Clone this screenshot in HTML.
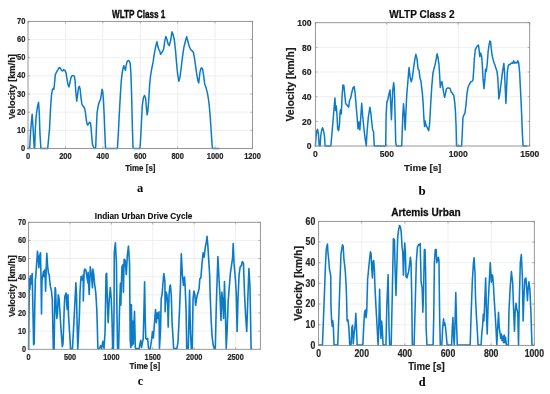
<!DOCTYPE html>
<html><head><meta charset="utf-8"><title>Drive cycles</title>
<style>html,body{margin:0;padding:0;background:#fff;width:550px;height:394px;overflow:hidden}svg{display:block}</style>
</head><body>
<svg width="550" height="394" viewBox="0 0 550 394">
<rect width="550" height="394" fill="#fff"/>
<path d="M65.42 21.4V148.5M102.83 21.4V148.5M140.25 21.4V148.5M177.67 21.4V148.5M215.08 21.4V148.5M28 130.34H252.5M28 112.19H252.5M28 94.03H252.5M28 75.87H252.5M28 57.71H252.5M28 39.56H252.5" stroke="#ebebeb" stroke-width="0.8" fill="none"/>
<path d="M28 148.46 L29.66 148.46 L30.8 128.57 L32.17 114.17 L33.09 128.57 L34.23 148.46 L34.69 148.46 L35.37 128.57 L36.06 117.14 L37.43 106.86 L38.57 102.29 L39.26 112.57 L39.94 133.14 L40.86 148.46 L47.71 148.46 L49.54 128.57 L50.69 105.71 L51.6 94.29 L52.51 89.26 L53.2 88.57 L53.89 89.26 L54.57 82.86 L55.26 74.86 L56.86 71.43 L58 69.6 L59.14 67.54 L60.29 68 L61.43 70.29 L62.57 70.97 L63.71 69.6 L64.86 70.29 L66 72.57 L66.91 78.29 L68.06 84.69 L68.97 86.97 L69.89 82.86 L70.8 78.29 L71.72 76 L73.32 75.54 L74.46 76.46 L75.14 81.71 L75.83 92 L76.74 101.14 L77.66 94.29 L78.57 87.43 L79.26 86.29 L80.17 89.26 L80.86 96.57 L81.77 103.43 L82.69 105.71 L83.83 106.86 L84.74 109.14 L85.43 112.57 L86.12 118.29 L86.8 122.86 L87.72 125.14 L88.63 123.54 L89.54 122.17 L90.46 122.86 L91.14 128.57 L91.83 137.71 L92.52 144.57 L93.43 146.86 L94.12 148.23 L95.03 148.46 L95.72 146.86 L96.4 128.57 L97.09 112.57 L98.23 105.71 L99.14 102.29 L100.29 100 L101.2 95.43 L102.12 89.26 L102.8 92 L103.49 101.14 L104.17 114.86 L104.86 133.14 L105.54 148.46 L117.43 148.46 L118.34 133.14 L119.26 114.86 L120.4 94.29 L121.32 80.57 L122.23 72.57 L123.14 68 L123.83 65.71 L124.52 68 L125.43 70.29 L126.12 65.71 L127.03 61.83 L128.17 60.46 L129.32 61.14 L130.23 63.43 L130.92 73.71 L131.6 94.29 L132.29 124 L132.97 146.86 L133.43 148.46 L140.29 148.46 L140 148.46 L140.69 137.71 L141.37 124 L142.29 105.71 L143.43 97.71 L144.57 95.43 L145.72 98.86 L146.4 108 L147.09 114.86 L147.77 111.43 L148.69 101.14 L149.6 85.14 L150.52 76 L151.43 70.29 L151.89 68 L152.57 64.57 L153.26 61.14 L154.17 54.28 L155.55 47.43 L156.92 41.71 L157.83 46.28 L158.75 49.26 L159.66 50.86 L160.57 54.28 L161.49 53.14 L162.4 51.54 L163.55 49.71 L164.69 41.71 L165.83 36.46 L166.97 39.43 L168.12 44 L169.26 45.6 L170.63 40.57 L172 31.88 L173.15 34.86 L174.29 39.43 L175.43 49.71 L176.57 63.43 L177.72 74.86 L178.86 81.26 L180 77.14 L181.15 68 L182.52 56.57 L183.89 47.43 L185.26 41.71 L186.63 36.68 L188 41.71 L189.15 46.28 L190.75 49.71 L192.12 50.86 L193.26 52 L194.4 57.71 L195.55 65.71 L196.69 73.71 L197.83 80.57 L198.75 82.86 L199.89 72.57 L201.03 68 L202.4 68.46 L203.55 74.86 L204.69 84 L206.29 88.57 L207.43 93.14 L208.57 100 L209.26 105.71 L209.95 113.71 L210.4 119.43 L210.86 126.29 L211.32 133.14 L211.77 140 L212.23 146.86 L212.69 148.46 L219.09 148.46" stroke="#0b7bc8" stroke-width="1.5" fill="none" stroke-linejoin="round" stroke-linecap="round"/>
<path d="M28 148.5v-2.0M28 21.4v2.0M65.42 148.5v-2.0M65.42 21.4v2.0M102.83 148.5v-2.0M102.83 21.4v2.0M140.25 148.5v-2.0M140.25 21.4v2.0M177.67 148.5v-2.0M177.67 21.4v2.0M215.08 148.5v-2.0M215.08 21.4v2.0M252.5 148.5v-2.0M252.5 21.4v2.0M28 148.5h2.0M252.5 148.5h-2.0M28 130.34h2.0M252.5 130.34h-2.0M28 112.19h2.0M252.5 112.19h-2.0M28 94.03h2.0M252.5 94.03h-2.0M28 75.87h2.0M252.5 75.87h-2.0M28 57.71h2.0M252.5 57.71h-2.0M28 39.56h2.0M252.5 39.56h-2.0M28 21.4h2.0M252.5 21.4h-2.0" stroke="#8c8c8c" stroke-width="0.7" fill="none"/>
<rect x="28" y="21.4" width="224.5" height="127.1" stroke="#8c8c8c" stroke-width="0.9" fill="none"/>
<text transform="translate(28,159.1) scale(1,1.280)" font-size="7.5" text-anchor="middle" font-weight="bold" font-family="'Liberation Sans', Arial, Helvetica, sans-serif" fill="#262626" stroke="#262626" stroke-width="0.18">0</text>
<text transform="translate(65.42,159.1) scale(1,1.280)" font-size="7.5" text-anchor="middle" font-weight="bold" font-family="'Liberation Sans', Arial, Helvetica, sans-serif" fill="#262626" stroke="#262626" stroke-width="0.18">200</text>
<text transform="translate(102.83,159.1) scale(1,1.280)" font-size="7.5" text-anchor="middle" font-weight="bold" font-family="'Liberation Sans', Arial, Helvetica, sans-serif" fill="#262626" stroke="#262626" stroke-width="0.18">400</text>
<text transform="translate(140.25,159.1) scale(1,1.280)" font-size="7.5" text-anchor="middle" font-weight="bold" font-family="'Liberation Sans', Arial, Helvetica, sans-serif" fill="#262626" stroke="#262626" stroke-width="0.18">600</text>
<text transform="translate(177.67,159.1) scale(1,1.280)" font-size="7.5" text-anchor="middle" font-weight="bold" font-family="'Liberation Sans', Arial, Helvetica, sans-serif" fill="#262626" stroke="#262626" stroke-width="0.18">800</text>
<text transform="translate(215.08,159.1) scale(1,1.280)" font-size="7.5" text-anchor="middle" font-weight="bold" font-family="'Liberation Sans', Arial, Helvetica, sans-serif" fill="#262626" stroke="#262626" stroke-width="0.18">1000</text>
<text transform="translate(252.5,159.1) scale(1,1.280)" font-size="7.5" text-anchor="middle" font-weight="bold" font-family="'Liberation Sans', Arial, Helvetica, sans-serif" fill="#262626" stroke="#262626" stroke-width="0.18">1200</text>
<text transform="translate(25.3,151.1) scale(1,1.280)" font-size="7.5" text-anchor="end" font-weight="bold" font-family="'Liberation Sans', Arial, Helvetica, sans-serif" fill="#262626" stroke="#262626" stroke-width="0.18">0</text>
<text transform="translate(25.3,132.94) scale(1,1.280)" font-size="7.5" text-anchor="end" font-weight="bold" font-family="'Liberation Sans', Arial, Helvetica, sans-serif" fill="#262626" stroke="#262626" stroke-width="0.18">10</text>
<text transform="translate(25.3,114.79) scale(1,1.280)" font-size="7.5" text-anchor="end" font-weight="bold" font-family="'Liberation Sans', Arial, Helvetica, sans-serif" fill="#262626" stroke="#262626" stroke-width="0.18">20</text>
<text transform="translate(25.3,96.63) scale(1,1.280)" font-size="7.5" text-anchor="end" font-weight="bold" font-family="'Liberation Sans', Arial, Helvetica, sans-serif" fill="#262626" stroke="#262626" stroke-width="0.18">30</text>
<text transform="translate(25.3,78.47) scale(1,1.280)" font-size="7.5" text-anchor="end" font-weight="bold" font-family="'Liberation Sans', Arial, Helvetica, sans-serif" fill="#262626" stroke="#262626" stroke-width="0.18">40</text>
<text transform="translate(25.3,60.31) scale(1,1.280)" font-size="7.5" text-anchor="end" font-weight="bold" font-family="'Liberation Sans', Arial, Helvetica, sans-serif" fill="#262626" stroke="#262626" stroke-width="0.18">50</text>
<text transform="translate(25.3,42.16) scale(1,1.280)" font-size="7.5" text-anchor="end" font-weight="bold" font-family="'Liberation Sans', Arial, Helvetica, sans-serif" fill="#262626" stroke="#262626" stroke-width="0.18">60</text>
<text transform="translate(25.3,24) scale(1,1.280)" font-size="7.5" text-anchor="end" font-weight="bold" font-family="'Liberation Sans', Arial, Helvetica, sans-serif" fill="#262626" stroke="#262626" stroke-width="0.18">70</text>
<text transform="translate(138.7,17.5) scale(1,1.244)" font-size="8.2" text-anchor="middle" font-weight="bold" font-family="'Liberation Sans', Arial, Helvetica, sans-serif" fill="#0d0d0d" stroke="#0d0d0d" stroke-width="0.28">WLTP Class 1</text>
<text transform="translate(140.3,170.7) scale(1,1.094)" font-size="7.95" text-anchor="middle" font-weight="bold" font-family="'Liberation Sans', Arial, Helvetica, sans-serif" fill="#1f1f1f" stroke="#1f1f1f" stroke-width="0.22">Time [s]</text>
<text transform="translate(14.6,86.75) rotate(-90) scale(1,0.951)" font-size="9.25" text-anchor="middle" font-weight="bold" font-family="'Liberation Sans', Arial, Helvetica, sans-serif" fill="#1f1f1f" stroke="#1f1f1f" stroke-width="0.22">Velocity [km/h]</text>
<text transform="translate(140,191.6) scale(1,1.000)" font-size="12.5" text-anchor="middle" font-weight="bold" font-family="'Liberation Serif', 'Times New Roman', serif" fill="#000">a</text>
<path d="M386.83 22.7V146M458.27 22.7V146M315.4 121.34H529.7M315.4 96.68H529.7M315.4 72.02H529.7M315.4 47.36H529.7" stroke="#ebebeb" stroke-width="0.8" fill="none"/>
<path d="M315.4 146 L315.97 138 L316.66 131.14 L317.57 129.31 L318.49 134.57 L319.17 146 L320.09 146 L320.77 135.71 L321.69 130 L322.6 127.71 L323.51 130.69 L324.43 135.71 L325.11 146 L330.83 146 L331.97 133.43 L333.11 119.71 L334.26 106 L334.94 98 L335.63 110.57 L336.31 106 L337 115.14 L337.69 128.86 L338.6 130.69 L339.51 124.29 L339.97 112.86 L340.66 109.43 L341.34 114 L342.03 96.86 L342.94 84.97 L343.86 85.43 L344.77 94.57 L345.69 103.71 L346.83 104.86 L347.74 106 L348.66 107.14 L349.57 100.29 L350.71 98 L351.86 92.29 L353 87.71 L354.14 86.57 L355.06 92.29 L355.97 103.71 L357.11 117.43 L358.03 128.86 L358.94 122 L359.86 130 L360.77 117.43 L361.69 103.26 L362.6 115.14 L363.51 124.29 L364.43 133.43 L365.57 141.43 L366.26 146 L366.94 133.43 L368.31 117.43 L369.91 107.14 L370.83 112.86 L371.74 122 L372.66 130 L373.57 131.6 L374.26 146 L385.69 146 L386.14 115.14 L386.83 102.57 L387.97 99.14 L389.11 93.43 L390.03 90 L390.71 103.71 L391.4 119.71 L392.09 103.71 L392.77 90 L393.69 82.69 L394.37 90 L395.06 115.14 L395.74 142.57 L396.43 146 L401.69 146 L402.83 115.14 L403.51 103.71 L404.43 115.14 L405.11 130 L405.8 115.14 L406.71 95.49 L407.86 81.77 L409 67.6 L410.14 77.2 L411.29 81.77 L412.43 77.2 L413.57 68.06 L414.71 60.06 L415.86 54.34 L417 58.91 L418.14 69.2 L419.06 70.34 L419.97 78.34 L420.89 80.63 L421.8 88.63 L422.49 94.57 L423.17 103.71 L423.86 117.43 L424.54 126.57 L425 120.86 L426.14 125.43 L427.29 127.71 L428.66 130.69 L429.57 124.29 L430.71 103.71 L431.86 85.43 L433 72.86 L434.14 68.29 L435.06 64.86 L435.97 60.29 L437.11 53.83 L438.03 57.71 L438.94 64.57 L439.63 74.86 L440.31 87.43 L441 82.86 L441.91 81.71 L442.83 87.43 L443.74 93.14 L444.66 97.26 L445.57 93.14 L446.49 88.57 L447.86 87.89 L449.23 88.11 L450.14 88.57 L451.06 92 L451.97 92.69 L452.89 94.29 L453.8 95.43 L454.71 102.29 L455.4 110.57 L456.09 126.57 L456.54 146 L461.57 146 L462.26 133.43 L462.94 117.43 L463.86 115.14 L465 112.86 L466.14 103.71 L466.83 94.57 L467.97 87.71 L469.34 84.29 L470.71 82 L472.09 81.31 L473 79.89 L473.69 70.29 L474.37 58.86 L475.29 49.71 L476.43 47.43 L477.57 45.6 L478.49 45.14 L479.17 50.86 L479.86 56.57 L480.77 53.14 L481.69 56.57 L482.37 65.71 L483.06 79.43 L483.97 88.57 L484.89 79.43 L485.57 69.14 L486.26 71.43 L487.17 64.57 L488.09 52 L489 45.14 L489.91 41.03 L490.6 41.71 L491.29 48.57 L491.97 54.29 L492.89 58.86 L493.57 61.14 L494.71 64.57 L495.86 68 L497 71.43 L497.69 77.14 L498.37 88.57 L498.83 98.86 L499.51 95.43 L500.43 88.57 L501.57 79.43 L502.71 70.29 L503.86 63.43 L504.54 72.57 L505.23 88.57 L505.91 103.43 L506.6 88.57 L507.29 72.57 L508.2 65.71 L509.11 64.57 L510.03 64.57 L510.94 63.43 L511.86 62.97 L512.77 63.43 L513.69 60.69 L514.37 62.97 L515.29 62.97 L515.97 62.29 L516.89 62.97 L517.8 60.69 L518.71 62.97 L519.63 72.57 L520.31 86.29 L521 100.06 L521.69 115.14 L522.37 133.43 L523.06 146 L526.71 146" stroke="#0b7bc8" stroke-width="1.5" fill="none" stroke-linejoin="round" stroke-linecap="round"/>
<path d="M315.4 146v-2.0M315.4 22.7v2.0M386.83 146v-2.0M386.83 22.7v2.0M458.27 146v-2.0M458.27 22.7v2.0M529.7 146v-2.0M529.7 22.7v2.0M315.4 146h2.0M529.7 146h-2.0M315.4 121.34h2.0M529.7 121.34h-2.0M315.4 96.68h2.0M529.7 96.68h-2.0M315.4 72.02h2.0M529.7 72.02h-2.0M315.4 47.36h2.0M529.7 47.36h-2.0M315.4 22.7h2.0M529.7 22.7h-2.0" stroke="#8c8c8c" stroke-width="0.7" fill="none"/>
<rect x="315.4" y="22.7" width="214.3" height="123.3" stroke="#8c8c8c" stroke-width="0.9" fill="none"/>
<text transform="translate(315.4,157.4) scale(1,1.099)" font-size="8.55" text-anchor="middle" font-weight="bold" font-family="'Liberation Sans', Arial, Helvetica, sans-serif" fill="#262626" stroke="#262626" stroke-width="0.18">0</text>
<text transform="translate(386.83,157.4) scale(1,1.099)" font-size="8.55" text-anchor="middle" font-weight="bold" font-family="'Liberation Sans', Arial, Helvetica, sans-serif" fill="#262626" stroke="#262626" stroke-width="0.18">500</text>
<text transform="translate(458.27,157.4) scale(1,1.099)" font-size="8.55" text-anchor="middle" font-weight="bold" font-family="'Liberation Sans', Arial, Helvetica, sans-serif" fill="#262626" stroke="#262626" stroke-width="0.18">1000</text>
<text transform="translate(529.7,157.4) scale(1,1.099)" font-size="8.55" text-anchor="middle" font-weight="bold" font-family="'Liberation Sans', Arial, Helvetica, sans-serif" fill="#262626" stroke="#262626" stroke-width="0.18">1500</text>
<text transform="translate(311.5,149.3) scale(1,1.099)" font-size="8.55" text-anchor="end" font-weight="bold" font-family="'Liberation Sans', Arial, Helvetica, sans-serif" fill="#262626" stroke="#262626" stroke-width="0.18">0</text>
<text transform="translate(311.5,124.64) scale(1,1.099)" font-size="8.55" text-anchor="end" font-weight="bold" font-family="'Liberation Sans', Arial, Helvetica, sans-serif" fill="#262626" stroke="#262626" stroke-width="0.18">20</text>
<text transform="translate(311.5,99.98) scale(1,1.099)" font-size="8.55" text-anchor="end" font-weight="bold" font-family="'Liberation Sans', Arial, Helvetica, sans-serif" fill="#262626" stroke="#262626" stroke-width="0.18">40</text>
<text transform="translate(311.5,75.32) scale(1,1.099)" font-size="8.55" text-anchor="end" font-weight="bold" font-family="'Liberation Sans', Arial, Helvetica, sans-serif" fill="#262626" stroke="#262626" stroke-width="0.18">60</text>
<text transform="translate(311.5,50.66) scale(1,1.099)" font-size="8.55" text-anchor="end" font-weight="bold" font-family="'Liberation Sans', Arial, Helvetica, sans-serif" fill="#262626" stroke="#262626" stroke-width="0.18">80</text>
<text transform="translate(311.5,26) scale(1,1.099)" font-size="8.55" text-anchor="end" font-weight="bold" font-family="'Liberation Sans', Arial, Helvetica, sans-serif" fill="#262626" stroke="#262626" stroke-width="0.18">100</text>
<text transform="translate(421.9,17.9) scale(1,1.045)" font-size="10.05" text-anchor="middle" font-weight="bold" font-family="'Liberation Sans', Arial, Helvetica, sans-serif" fill="#0d0d0d" stroke="#0d0d0d" stroke-width="0.2">WLTP Class 2</text>
<text transform="translate(422.7,170.5) scale(1,1.015)" font-size="9.8" text-anchor="middle" font-weight="bold" font-family="'Liberation Sans', Arial, Helvetica, sans-serif" fill="#1f1f1f" stroke="#1f1f1f" stroke-width="0.22">Time [s]</text>
<text transform="translate(293.6,84.6) rotate(-90) scale(1,0.953)" font-size="10.49" text-anchor="middle" font-weight="bold" font-family="'Liberation Sans', Arial, Helvetica, sans-serif" fill="#1f1f1f" stroke="#1f1f1f" stroke-width="0.22">Velocity [km/h]</text>
<text transform="translate(422.2,195) scale(1,1.000)" font-size="13" text-anchor="middle" font-weight="bold" font-family="'Liberation Serif', 'Times New Roman', serif" fill="#000">b</text>
<path d="M69.99 222.3V349.3M111.39 222.3V349.3M152.78 222.3V349.3M194.17 222.3V349.3M235.56 222.3V349.3M28.6 331.16H260.4M28.6 313.01H260.4M28.6 294.87H260.4M28.6 276.73H260.4M28.6 258.59H260.4M28.6 240.44H260.4" stroke="#ebebeb" stroke-width="0.8" fill="none"/>
<path d="M28.6 349.3 L29.3 278.54 L29.9 289.43 L30.5 275.82 L31.2 283.99 L32.2 273.64 L33 313.01 L33.6 344.76 L34.2 343.86 L34.8 303.94 L35.3 280.36 L35.9 274.91 L36.5 265.84 L37.5 251.33 L38.3 258.59 L38.9 267.66 L39.5 256.77 L40.5 252.78 L41 276.73 L41.5 313.92 L42 280.36 L42.6 276.73 L43.5 271.29 L44.3 276.73 L45 269.47 L45.6 291.24 L46.2 269.47 L46.8 253.32 L47.6 265.84 L48.4 273.1 L49.2 274.91 L50 283.99 L50.7 287.61 L51.5 291.24 L52.3 300.31 L53.3 349.3 L54.1 349.3 L54.6 313.01 L55.1 287.61 L55.6 289.43 L56.2 309.39 L56.8 318.46 L57.5 313.01 L58.3 294.87 L59.1 298.5 L60 313.01 L61 329.34 L62.3 346.58 L63 343.86 L63.6 327.53 L64.3 305.76 L64.8 296.69 L65.4 294.87 L66.1 293.06 L66.7 303.94 L67.2 309.39 L68 294.87 L68.5 314.83 L69.6 332.97 L70.5 347.49 L71.2 349.3 L72.5 348.39 L73.9 322.09 L75.3 294.87 L75.9 282.72 L76.5 294.87 L77.2 327.53 L77.8 349.3 L79.37 316.18 L80.02 292.17 L80.68 281.26 L81.11 276.28 L82.2 279.99 L83.3 274.54 L83.3 300.9 L84.17 271.26 L84.82 269.08 L85.91 270.17 L87 277.81 L88.1 283.45 L88.1 272.36 L89.19 294.36 L90.28 266.9 L91.37 274.54 L92.46 287.81 L92.9 269.08 L93.77 274.54 L94.64 284.36 L95.73 292.17 L96.82 309.63 L97.91 348.48 L99.44 348.48 L100.75 345.64 L101.62 348.48 L102.93 341.28 L104.02 348.48 L105.11 331.46 L105.99 274.72 L106.64 273.45 L107.3 298.72 L108.17 322.73 L109.26 298.72 L110.35 287.63 L111.22 298.72 L111.88 314 L112.75 348.48 L113.41 348.48 L114.06 309.63 L114.28 252.71 L115.37 242.89 L116.46 263.63 L116.9 309.63 L117.55 348.48 L118.64 348.48 L119.52 309.63 L120.39 283.27 L120.83 305.27 L121.92 266.9 L123.01 264.72 L123.44 292.17 L124.1 259.26 L125.19 260.35 L126.28 274.54 L127.37 254.9 L128.46 246.17 L129.55 263.63 L130.2 340.23 L130.8 347.49 L131.4 304.49 L132 345.67 L132.7 321 L133.3 343.86 L134.5 311.38 L135.3 347.49 L136 349.3 L137 348.39 L139 349.3 L140.7 340.23 L141.5 347.49 L142.5 342.04 L143.2 339.32 L143.9 313.01 L144.6 281.81 L145.3 322.09 L145.8 338.41 L146.6 339.32 L147.6 338.41 L148.4 347.49 L149 349.3 L150.29 348.48 L151.82 338 L152.47 331.46 L153.35 338 L154.66 320.54 L155.53 309.63 L156.4 322.73 L157.27 312.91 L158.15 318.36 L159.02 311.82 L159.46 348.48 L160.55 329.27 L161.2 298.72 L162.07 294.36 L162.95 283.45 L163.82 273.45 L164.91 281.08 L165.13 311.82 L166 292.17 L166.87 294.36 L167.75 305.27 L168.18 327.09 L169.06 294.36 L169.93 285.63 L170.37 285.01 L171.24 294.36 L172.11 322.73 L173.64 348.48 L176.91 348.48 L178 342.37 L179.53 309.63 L180.4 287.81 L181.28 253.81 L182.37 274.54 L183.46 285.45 L184.55 277.16 L185.2 287.81 L186.08 309.63 L186.73 348.48 L188.26 348.48 L189.57 290.25 L190.44 331.46 L191.31 348.48 L192.19 348.48 L193.06 298.72 L193.93 291.08 L194.8 294.36 L195.68 305.27 L196.55 298.72 L197.42 294.36 L198.3 292.17 L199.17 287.81 L199.82 278.9 L200.91 277.81 L202 263.63 L203.1 252.71 L204.19 257.08 L205.28 247.26 L206.37 241.8 L207.02 236.35 L207.9 246.17 L208.55 257.08 L209.64 274.54 L210.3 298.72 L211.17 320.54 L212.04 335.82 L213.13 344.55 L214.22 348.48 L215.31 348.48 L216.19 309.63 L217.28 274.54 L217.93 256.64 L218.81 274.54 L220.11 298.72 L220.99 320.54 L221.86 292.17 L222.73 300.9 L223.61 318.36 L224.48 281.52 L225.35 309.63 L226.22 348.48 L227.1 331.46 L228.19 300.9 L230.37 273.45 L231.46 265.81 L232.55 258.17 L233.21 243.55 L234.08 263.63 L235.39 278.9 L236.26 294.36 L237.13 331.46 L238.01 298.72 L239.1 274.54 L240.19 266.9 L241.28 265.81 L242.37 261.44 L243.46 263.63 L244.55 294.36 L245.64 316.18 L246.73 331.46 L247.83 298.72 L248.92 268.43 L250.01 287.81 L251.1 348.48 L251.54 348.48" stroke="#0b7bc8" stroke-width="1.6" fill="none" stroke-linejoin="round" stroke-linecap="round"/>
<path d="M28.6 349.3v-2.0M28.6 222.3v2.0M69.99 349.3v-2.0M69.99 222.3v2.0M111.39 349.3v-2.0M111.39 222.3v2.0M152.78 349.3v-2.0M152.78 222.3v2.0M194.17 349.3v-2.0M194.17 222.3v2.0M235.56 349.3v-2.0M235.56 222.3v2.0M28.6 349.3h2.0M260.4 349.3h-2.0M28.6 331.16h2.0M260.4 331.16h-2.0M28.6 313.01h2.0M260.4 313.01h-2.0M28.6 294.87h2.0M260.4 294.87h-2.0M28.6 276.73h2.0M260.4 276.73h-2.0M28.6 258.59h2.0M260.4 258.59h-2.0M28.6 240.44h2.0M260.4 240.44h-2.0M28.6 222.3h2.0M260.4 222.3h-2.0" stroke="#8c8c8c" stroke-width="0.7" fill="none"/>
<rect x="28.6" y="222.3" width="231.8" height="127" stroke="#8c8c8c" stroke-width="0.9" fill="none"/>
<text transform="translate(28.6,359.5) scale(1,1.143)" font-size="7.35" text-anchor="middle" font-weight="bold" font-family="'Liberation Sans', Arial, Helvetica, sans-serif" fill="#262626" stroke="#262626" stroke-width="0.18">0</text>
<text transform="translate(69.99,359.5) scale(1,1.143)" font-size="7.35" text-anchor="middle" font-weight="bold" font-family="'Liberation Sans', Arial, Helvetica, sans-serif" fill="#262626" stroke="#262626" stroke-width="0.18">500</text>
<text transform="translate(111.39,359.5) scale(1,1.143)" font-size="7.35" text-anchor="middle" font-weight="bold" font-family="'Liberation Sans', Arial, Helvetica, sans-serif" fill="#262626" stroke="#262626" stroke-width="0.18">1000</text>
<text transform="translate(152.78,359.5) scale(1,1.143)" font-size="7.35" text-anchor="middle" font-weight="bold" font-family="'Liberation Sans', Arial, Helvetica, sans-serif" fill="#262626" stroke="#262626" stroke-width="0.18">1500</text>
<text transform="translate(194.17,359.5) scale(1,1.143)" font-size="7.35" text-anchor="middle" font-weight="bold" font-family="'Liberation Sans', Arial, Helvetica, sans-serif" fill="#262626" stroke="#262626" stroke-width="0.18">2000</text>
<text transform="translate(235.56,359.5) scale(1,1.143)" font-size="7.35" text-anchor="middle" font-weight="bold" font-family="'Liberation Sans', Arial, Helvetica, sans-serif" fill="#262626" stroke="#262626" stroke-width="0.18">2500</text>
<text transform="translate(26.2,352.3) scale(1,1.143)" font-size="7.35" text-anchor="end" font-weight="bold" font-family="'Liberation Sans', Arial, Helvetica, sans-serif" fill="#262626" stroke="#262626" stroke-width="0.18">0</text>
<text transform="translate(26.2,334.16) scale(1,1.143)" font-size="7.35" text-anchor="end" font-weight="bold" font-family="'Liberation Sans', Arial, Helvetica, sans-serif" fill="#262626" stroke="#262626" stroke-width="0.18">10</text>
<text transform="translate(26.2,316.01) scale(1,1.143)" font-size="7.35" text-anchor="end" font-weight="bold" font-family="'Liberation Sans', Arial, Helvetica, sans-serif" fill="#262626" stroke="#262626" stroke-width="0.18">20</text>
<text transform="translate(26.2,297.87) scale(1,1.143)" font-size="7.35" text-anchor="end" font-weight="bold" font-family="'Liberation Sans', Arial, Helvetica, sans-serif" fill="#262626" stroke="#262626" stroke-width="0.18">30</text>
<text transform="translate(26.2,279.73) scale(1,1.143)" font-size="7.35" text-anchor="end" font-weight="bold" font-family="'Liberation Sans', Arial, Helvetica, sans-serif" fill="#262626" stroke="#262626" stroke-width="0.18">40</text>
<text transform="translate(26.2,261.59) scale(1,1.143)" font-size="7.35" text-anchor="end" font-weight="bold" font-family="'Liberation Sans', Arial, Helvetica, sans-serif" fill="#262626" stroke="#262626" stroke-width="0.18">50</text>
<text transform="translate(26.2,243.44) scale(1,1.143)" font-size="7.35" text-anchor="end" font-weight="bold" font-family="'Liberation Sans', Arial, Helvetica, sans-serif" fill="#262626" stroke="#262626" stroke-width="0.18">60</text>
<text transform="translate(26.2,225.3) scale(1,1.143)" font-size="7.35" text-anchor="end" font-weight="bold" font-family="'Liberation Sans', Arial, Helvetica, sans-serif" fill="#262626" stroke="#262626" stroke-width="0.18">70</text>
<text transform="translate(143.6,219) scale(1,1.056)" font-size="8.24" text-anchor="middle" font-weight="bold" font-family="'Liberation Sans', Arial, Helvetica, sans-serif" fill="#0d0d0d" stroke="#0d0d0d" stroke-width="0.12">Indian Urban Drive Cycle</text>
<text transform="translate(144.8,369.4) scale(1,1.047)" font-size="8.02" text-anchor="middle" font-weight="bold" font-family="'Liberation Sans', Arial, Helvetica, sans-serif" fill="#1f1f1f" stroke="#1f1f1f" stroke-width="0.22">Time [s]</text>
<text transform="translate(14.9,286.15) rotate(-90) scale(1,0.935)" font-size="8.77" text-anchor="middle" font-weight="bold" font-family="'Liberation Sans', Arial, Helvetica, sans-serif" fill="#1f1f1f" stroke="#1f1f1f" stroke-width="0.22">Velocity [km/h]</text>
<text transform="translate(140.3,385.4) scale(1,1.025)" font-size="12" text-anchor="middle" font-weight="bold" font-family="'Liberation Serif', 'Times New Roman', serif" fill="#000">c</text>
<path d="M361.74 221.4V345.4M404.88 221.4V345.4M448.02 221.4V345.4M491.16 221.4V345.4M318.6 324.73H534.3M318.6 304.07H534.3M318.6 283.4H534.3M318.6 262.73H534.3M318.6 242.07H534.3" stroke="#ebebeb" stroke-width="0.8" fill="none"/>
<path d="M318.75 344.92 L322.45 344.92 L323.55 316.55 L324.64 288.19 L325.29 269.2 L326.16 250.65 L326.82 246.29 L327.47 244.11 L327.91 251.74 L328.78 260.47 L329.44 269.2 L330.09 272.47 L330.75 275.74 L330.96 305.65 L331.62 320.92 L332.27 326.37 L332.71 320.48 L333.36 326.37 L334.02 344.92 L337.73 344.92 L338.82 316.55 L339.91 283.83 L341 253.93 L341.66 249.56 L342.53 244.76 L343.18 246.29 L343.84 258.29 L344.71 265.93 L345.37 272.47 L346.02 283.83 L346.46 294.74 L347.11 320.92 L347.98 319.83 L348.86 327.46 L349.73 344.92 L351.04 344.92 L351.91 327.46 L352.57 325.28 L353.22 343.82 L354.09 334.01 L354.97 327.46 L355.84 313.28 L356.49 327.46 L357.15 344.92 L362.82 344.92 L363.91 323.1 L364.57 312.19 L365.44 310.01 L366.09 317.64 L366.75 311.1 L367.62 279.47 L368.93 265.93 L369.8 257.2 L370.46 251.74 L371.11 253.93 L371.77 269.2 L372.42 277.92 L373.08 261.56 L373.73 260.47 L374.39 269.2 L374.82 283.83 L375.91 305.65 L377 325.28 L378.1 344.92 L378.75 327.46 L379.62 289.28 L380.28 323.1 L380.93 338.37 L381.59 320.92 L382.24 327.46 L383.11 344.92 L385.95 344.92 L386.82 305.65 L388.13 274.65 L389.01 327.46 L389.66 344.92 L391.19 344.92 L392.28 294.74 L393.37 238.66 L394.46 239.75 L395.11 269.2 L395.99 295.39 L396.64 273.56 L397.73 236.47 L398.61 229.93 L399.48 225.57 L400.35 226.66 L401.22 232.11 L402.1 247.38 L402.75 251.74 L403.41 275.1 L404.06 258.29 L404.72 243.02 L405.37 251.74 L406.02 276.63 L406.9 277.94 L407.77 274.45 L408.64 271.38 L409.52 264.83 L410.39 257.2 L411.04 262.65 L411.7 294.74 L412.35 344.92 L414.1 344.92 L415.19 305.65 L416.28 262.65 L417.37 247.38 L418.46 244.76 L419.55 245.2 L420.21 243.45 L421.09 281.65 L422.18 288.19 L422.84 312.19 L423.49 294.74 L424.36 249.56 L425.02 249.56 L425.67 273.56 L426.11 327.46 L426.98 344.92 L433.09 344.92 L433.75 316.55 L434.4 262.65 L435.27 249.56 L436.15 249.56 L436.8 262.65 L437.46 260.47 L438.33 257.2 L438.98 260.47 L439.64 316.55 L440.29 344.92 L441.82 344.92 L442.69 327.46 L443.57 318.74 L444.22 325.28 L444.87 323.1 L445.53 327.46 L446.18 334.01 L447.06 344.92 L451.64 344.92 L452.29 327.46 L452.95 317.64 L453.6 336.19 L454.26 344.92 L454.91 327.46 L455.78 292.56 L456.66 327.46 L457.31 344.92 L470.19 344.92 L471.06 316.55 L472.37 280.11 L473.46 262.65 L474.11 257.85 L474.99 273.56 L475.42 294.74 L476.3 314.37 L477.17 327.46 L478.04 344.92 L481.1 344.92 L481.75 334.01 L482.62 325.28 L483.28 314.37 L483.93 320.92 L484.59 305.65 L485.68 277.92 L486.55 316.55 L487.2 334.01 L488.08 305.65 L488.95 288.19 L490.26 262.65 L491.35 282.29 L492.01 274.65 L492.66 275.74 L493.53 286.65 L494.19 299.1 L495.06 312.19 L495.93 327.46 L496.81 344.92 L497.68 327.46 L498.55 312.19 L499.21 327.46 L499.86 331.83 L500.73 338.37 L501.39 334.01 L502.04 340.55 L502.92 336.19 L503.57 342.73 L504.22 335.1 L504.88 342.73 L505.53 337.28 L506.41 344.92 L508.37 344.92 L508.88 313.46 L510.15 288.08 L511.42 271.59 L512.69 283 L513.71 313.46 L514.47 331.22 L515.23 310.92 L515.99 303.31 L516.75 308.38 L517.77 313.46 L518.53 345.18 L519.29 300.77 L520.3 262.7 L521.32 254.58 L522.34 275.39 L523.1 321.07 L524.11 293.16 L524.87 279.2 L525.89 277.93 L526.65 288.08 L527.41 300.77 L528.17 288.08 L528.93 281.74 L529.95 290.62 L530.96 313.46 L531.98 345.18 L532.99 345.18" stroke="#0b7bc8" stroke-width="1.55" fill="none" stroke-linejoin="round" stroke-linecap="round"/>
<path d="M318.6 345.4v-2.0M318.6 221.4v2.0M361.74 345.4v-2.0M361.74 221.4v2.0M404.88 345.4v-2.0M404.88 221.4v2.0M448.02 345.4v-2.0M448.02 221.4v2.0M491.16 345.4v-2.0M491.16 221.4v2.0M534.3 345.4v-2.0M534.3 221.4v2.0M318.6 345.4h2.0M534.3 345.4h-2.0M318.6 324.73h2.0M534.3 324.73h-2.0M318.6 304.07h2.0M534.3 304.07h-2.0M318.6 283.4h2.0M534.3 283.4h-2.0M318.6 262.73h2.0M534.3 262.73h-2.0M318.6 242.07h2.0M534.3 242.07h-2.0M318.6 221.4h2.0M534.3 221.4h-2.0" stroke="#8c8c8c" stroke-width="0.7" fill="none"/>
<rect x="318.6" y="221.4" width="215.7" height="124" stroke="#8c8c8c" stroke-width="0.9" fill="none"/>
<text transform="translate(318.6,357) scale(1,1.149)" font-size="8.7" text-anchor="middle" font-weight="bold" font-family="'Liberation Sans', Arial, Helvetica, sans-serif" fill="#262626" stroke="#262626" stroke-width="0.18">0</text>
<text transform="translate(361.74,357) scale(1,1.149)" font-size="8.7" text-anchor="middle" font-weight="bold" font-family="'Liberation Sans', Arial, Helvetica, sans-serif" fill="#262626" stroke="#262626" stroke-width="0.18">200</text>
<text transform="translate(404.88,357) scale(1,1.149)" font-size="8.7" text-anchor="middle" font-weight="bold" font-family="'Liberation Sans', Arial, Helvetica, sans-serif" fill="#262626" stroke="#262626" stroke-width="0.18">400</text>
<text transform="translate(448.02,357) scale(1,1.149)" font-size="8.7" text-anchor="middle" font-weight="bold" font-family="'Liberation Sans', Arial, Helvetica, sans-serif" fill="#262626" stroke="#262626" stroke-width="0.18">600</text>
<text transform="translate(491.16,357) scale(1,1.149)" font-size="8.7" text-anchor="middle" font-weight="bold" font-family="'Liberation Sans', Arial, Helvetica, sans-serif" fill="#262626" stroke="#262626" stroke-width="0.18">800</text>
<text transform="translate(534.3,357) scale(1,1.149)" font-size="8.7" text-anchor="middle" font-weight="bold" font-family="'Liberation Sans', Arial, Helvetica, sans-serif" fill="#262626" stroke="#262626" stroke-width="0.18">1000</text>
<text transform="translate(315.3,348.6) scale(1,1.149)" font-size="8.7" text-anchor="end" font-weight="bold" font-family="'Liberation Sans', Arial, Helvetica, sans-serif" fill="#262626" stroke="#262626" stroke-width="0.18">0</text>
<text transform="translate(315.3,327.93) scale(1,1.149)" font-size="8.7" text-anchor="end" font-weight="bold" font-family="'Liberation Sans', Arial, Helvetica, sans-serif" fill="#262626" stroke="#262626" stroke-width="0.18">10</text>
<text transform="translate(315.3,307.27) scale(1,1.149)" font-size="8.7" text-anchor="end" font-weight="bold" font-family="'Liberation Sans', Arial, Helvetica, sans-serif" fill="#262626" stroke="#262626" stroke-width="0.18">20</text>
<text transform="translate(315.3,286.6) scale(1,1.149)" font-size="8.7" text-anchor="end" font-weight="bold" font-family="'Liberation Sans', Arial, Helvetica, sans-serif" fill="#262626" stroke="#262626" stroke-width="0.18">30</text>
<text transform="translate(315.3,265.93) scale(1,1.149)" font-size="8.7" text-anchor="end" font-weight="bold" font-family="'Liberation Sans', Arial, Helvetica, sans-serif" fill="#262626" stroke="#262626" stroke-width="0.18">40</text>
<text transform="translate(315.3,245.27) scale(1,1.149)" font-size="8.7" text-anchor="end" font-weight="bold" font-family="'Liberation Sans', Arial, Helvetica, sans-serif" fill="#262626" stroke="#262626" stroke-width="0.18">50</text>
<text transform="translate(315.3,224.6) scale(1,1.149)" font-size="8.7" text-anchor="end" font-weight="bold" font-family="'Liberation Sans', Arial, Helvetica, sans-serif" fill="#262626" stroke="#262626" stroke-width="0.18">60</text>
<text transform="translate(425.9,216.4) scale(1,1.069)" font-size="10.1" text-anchor="middle" font-weight="bold" font-family="'Liberation Sans', Arial, Helvetica, sans-serif" fill="#0d0d0d" stroke="#0d0d0d" stroke-width="0.25">Artemis Urban</text>
<text transform="translate(426.45,369.6) scale(1,1.040)" font-size="9.62" text-anchor="middle" font-weight="bold" font-family="'Liberation Sans', Arial, Helvetica, sans-serif" fill="#1f1f1f" stroke="#1f1f1f" stroke-width="0.22">Time [s]</text>
<text transform="translate(301.8,283.4) rotate(-90) scale(1,0.943)" font-size="10.6" text-anchor="middle" font-weight="bold" font-family="'Liberation Sans', Arial, Helvetica, sans-serif" fill="#1f1f1f" stroke="#1f1f1f" stroke-width="0.22">Velocity [km/h]</text>
<text transform="translate(422.2,385.7) scale(1,0.959)" font-size="12.3" text-anchor="middle" font-weight="bold" font-family="'Liberation Serif', 'Times New Roman', serif" fill="#000">d</text>
</svg>
</body></html>
